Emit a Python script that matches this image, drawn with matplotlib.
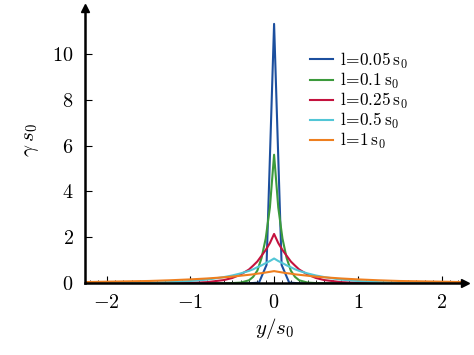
import numpy as np
import matplotlib
matplotlib.use("Agg")
import matplotlib.pyplot as plt
from matplotlib.ticker import MultipleLocator

plt.rcParams['mathtext.fontset'] = 'cm'
plt.rcParams['font.family'] = 'serif'
plt.rcParams['font.serif'] = ['cmr10', 'DejaVu Serif']
plt.rcParams['axes.formatter.use_mathtext'] = True

# half profiles (y/s0 >= 0), mirrored for negative side
y_half = [0, 0.05, 0.1, 0.15, 0.2, 0.25, 0.3, 0.4, 0.5, 0.6, 0.8, 1.0, 1.25, 1.5, 2.0, 2.3]
blue_y_half = [0, 0.09, 0.18, 0.3, 2.3]

g_005 = [11.3, 0.8, 0.03, 0.0, 0.0]
g_01 = [5.6, 3.3, 1.95, 1.1, 0.55, 0.28, 0.13, 0.03, 0.01, 0, 0, 0, 0, 0, 0, 0]
g_025 = [2.15, 1.75, 1.45, 1.2, 0.95, 0.77, 0.6, 0.38, 0.23, 0.14, 0.05, 0.02, 0.01, 0, 0, 0]
g_05 = [1.08, 0.97, 0.88, 0.78, 0.7, 0.61, 0.54, 0.43, 0.34, 0.27, 0.16, 0.1, 0.05, 0.03, 0.01, 0.005]
g_1 = [0.53, 0.5, 0.47, 0.44, 0.42, 0.39, 0.37, 0.33, 0.29, 0.26, 0.21, 0.17, 0.13, 0.1, 0.07, 0.05]

labels = [r'$\mathrm{l\!=\!0.05\,s_0}$', r'$\mathrm{l\!=\!0.1\,s_0}$', r'$\mathrm{l\!=\!0.25\,s_0}$',
          r'$\mathrm{l\!=\!0.5\,s_0}$', r'$\mathrm{l\!=\!1\,s_0}$']
colors = ['#1c4f9e', '#3c9a3c', '#c4123e', '#52c6d6', '#ee7f1f']


def mirror(xh, vh):
    xh = np.array(xh)
    vh = np.array(vh)
    return np.concatenate([-xh[::-1], xh[1:]]), np.concatenate([vh[::-1], vh[1:]])


fig = plt.figure(figsize=(4.74, 3.55), dpi=100)
ax = fig.add_axes([0.179, 0.202, 0.802, 0.776])

series = [(blue_y_half, g_005), (y_half, g_01), (y_half, g_025), (y_half, g_05), (y_half, g_1)]
for (xh, vh), lab, c in zip(series, labels, colors):
    x, v = mirror(xh, vh)
    ax.plot(x, v, color=c, lw=1.5, label=lab)

ax.set_xlim(-2.26, 2.28)
ax.set_ylim(0, 12.0)

for s in ['top', 'right']:
    ax.spines[s].set_visible(False)
for s in ['left', 'bottom']:
    ax.spines[s].set_linewidth(1.8)

# axis arrows
ax.plot(1, 0, '>k', ms=6, transform=ax.transAxes, clip_on=False)
ax.plot(0, 1, '^k', ms=6, transform=ax.transAxes, clip_on=False)

ax.xaxis.set_major_locator(MultipleLocator(1))
ax.xaxis.set_minor_locator(MultipleLocator(0.1))
ax.set_yticks([0, 2, 4, 6, 8, 10])
ax.tick_params(axis='both', which='major', direction='in', length=5, width=0.8, labelsize=14.5)
ax.tick_params(axis='x', which='major', pad=8)
ax.tick_params(axis='y', which='major', pad=8)
ax.tick_params(axis='x', which='minor', direction='in', length=2.5, width=0.6)

ax.set_xlabel(r'$y/s_0$', fontsize=15)
ax.set_ylabel(r'$\gamma\;s_0$', fontsize=15)
ax.xaxis.set_label_coords(0.5, -0.12)
ax.yaxis.set_label_coords(-0.115, 0.52)

ax.legend(loc='upper left', bbox_to_anchor=(0.575, 0.87), frameon=False, fontsize=12.5,
          handlelength=1.3, handletextpad=0.4, labelspacing=0.0, borderaxespad=0)

fig.savefig('out.png', dpi=100)
